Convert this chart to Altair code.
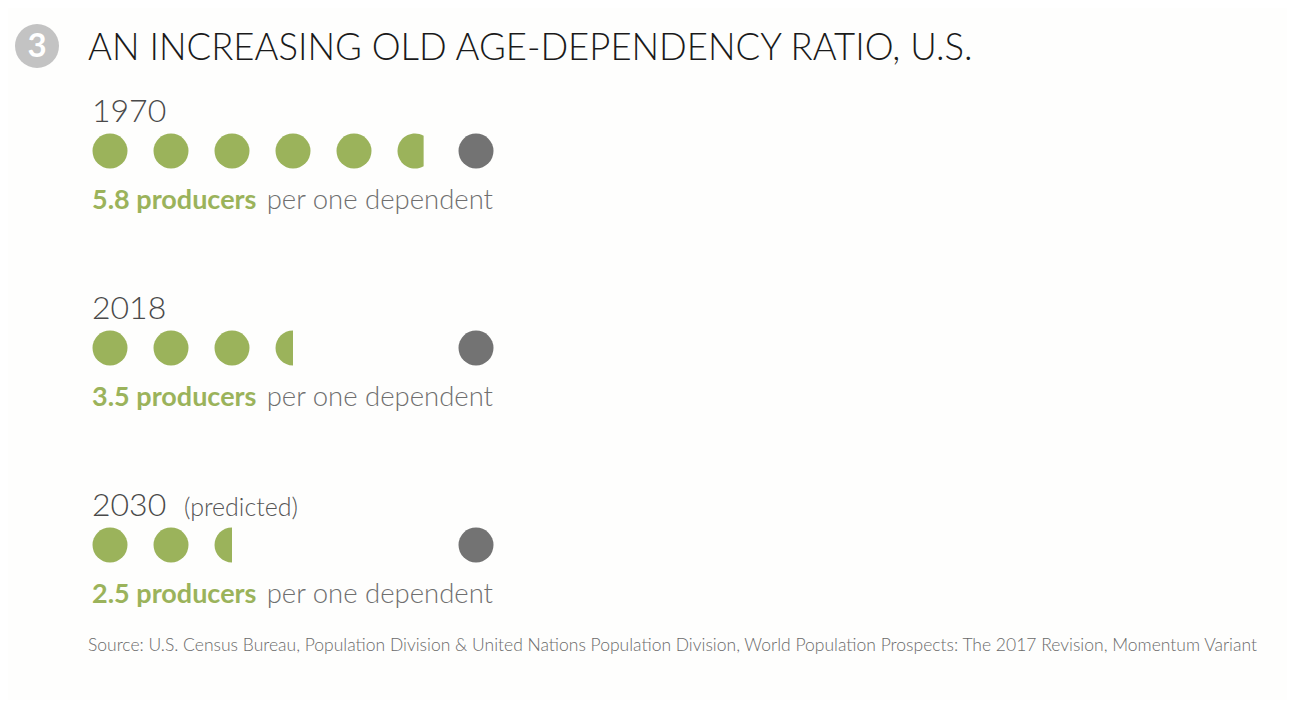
import math
import altair as alt
import pandas as pd

# ---- data ----
years = ["1970", "2018", "2030"]
year_notes = ["", "", "(predicted)"]
producers = [5.8, 3.5, 2.5]
dependents = [1, 1, 1]
producer_labels = ["5.8 producers", "3.5 producers", "2.5 producers"]
tail_label = "per one dependent"
title_text = "AN INCREASING OLD AGE-DEPENDENCY RATIO, U.S."
badge_text = "3"
source_text = ("Source: U.S. Census Bureau, Population Division & United Nations Population Division, "
               "World Population Prospects: The 2017 Revision, Momentum Variant")

GREEN = "#9bb35b"
DARK = "#737373"
BG = "#fefefd"
FONT = "Lato"
DEP_SLOT = 6


def chord_for_area(frac):
    # x position (in unit circle) of a vertical cut leaving `frac` of the area on the left
    lo, hi = -1.0, 1.0
    for _ in range(60):
        c = (lo + hi) / 2
        right = math.acos(c) - c * math.sqrt(1 - c * c)
        left_frac = (math.pi - right) / math.pi
        if left_frac < frac:
            lo = c
        else:
            hi = c
    return (lo + hi) / 2


def partial_path(frac):
    c = chord_for_area(frac)
    s = math.sqrt(max(0.0, 1 - c * c))
    large = 1 if c >= 0 else 0
    return f"M {c:.4f},{-s:.4f} A 1,1 0 {large},0 {c:.4f},{s:.4f} Z"


rows = []
for r, (yr, v, d) in enumerate(zip(years, producers, dependents)):
    n = int(math.floor(v + 1e-9))
    frac = round(v - n, 6)
    for i in range(n):
        rows.append({"year": yr, "row": r, "slot": i, "shape": "circle", "kind": "producer"})
    if frac > 0:
        rows.append({"year": yr, "row": r, "slot": n, "shape": partial_path(frac), "kind": "producer"})
    for j in range(d):
        rows.append({"year": yr, "row": r, "slot": DEP_SLOT - j, "shape": "circle", "kind": "dependent"})
dots = pd.DataFrame(rows)

labels = pd.DataFrame({
    "row": list(range(len(years))),
    "year": years,
    "note": year_notes,
    "plabel": producer_labels,
    "tail": [tail_label] * len(years),
})

xs = alt.Scale(domain=[0, DEP_SLOT], range=[102, 468])
ys = alt.Scale(domain=[0, 2], range=[143, 537])

dot_layer = alt.Chart(dots).mark_point(filled=True, opacity=1, strokeWidth=0, size=1225).encode(
    x=alt.X("slot:Q", scale=xs, axis=None),
    y=alt.Y("row:Q", scale=ys, axis=None),
    shape=alt.Shape("shape:N", scale=None),
    color=alt.Color("kind:N", scale=alt.Scale(domain=["producer", "dependent"], range=[GREEN, DARK]), legend=None),
)

base = alt.Chart(labels)

year_layer = base.mark_text(align="left", baseline="alphabetic", font=FONT, fontSize=32,
                            fontWeight=300, color="#4a4a4a", dy=-29).encode(
    x=alt.value(84), y=alt.Y("row:Q", scale=ys, axis=None), text="year:N")

note_layer = base.mark_text(align="left", baseline="alphabetic", font=FONT, fontSize=25,
                            fontWeight=300, color="#555555", dy=-29).encode(
    x=alt.value(176), y=alt.Y("row:Q", scale=ys, axis=None), text="note:N")

plabel_layer = base.mark_text(align="left", baseline="alphabetic", font=FONT, fontSize=27,
                              fontWeight="bold", color=GREEN, dy=58).encode(
    x=alt.value(84), y=alt.Y("row:Q", scale=ys, axis=None), text="plabel:N")

tail_layer = base.mark_text(align="right", baseline="alphabetic", font=FONT, fontSize=27.5,
                            fontWeight=300, color="#6f6f6f", dy=58).encode(
    x=alt.value(485), y=alt.Y("row:Q", scale=ys, axis=None), text="tail:N")

head = pd.DataFrame({"title": [title_text], "badge": [badge_text], "source": [source_text]})
hbase = alt.Chart(head)

badge_circle = hbase.mark_circle(size=1936, color="#c3c3c3", opacity=1).encode(
    x=alt.value(29), y=alt.value(38))
badge_num = hbase.mark_text(align="center", baseline="middle", font=FONT, fontSize=33,
                            fontWeight="bold", color="#ffffff").encode(
    x=alt.value(29), y=alt.value(39), text="badge:N")
title_layer = hbase.mark_text(align="left", baseline="alphabetic", font=FONT, fontSize=36.5,
                              fontWeight=300, color="#1a1a1a").encode(
    x=alt.value(80), y=alt.value(52), text="title:N")
source_layer = hbase.mark_text(align="left", baseline="alphabetic", font=FONT, fontSize=17.5,
                               fontWeight=300, color="#6a6a6a").encode(
    x=alt.value(80), y=alt.value(643), text="source:N")

chart = alt.layer(
    dot_layer, year_layer, note_layer, plabel_layer, tail_layer,
    badge_circle, badge_num, title_layer, source_layer,
).properties(
    width=1279, height=692,
    autosize=alt.AutoSizeParams(type="none"),
    padding=0,
    background=BG,
).configure_view(stroke=None)

chart.save("out.html", embed_options={"renderer": "svg", "actions": False})
